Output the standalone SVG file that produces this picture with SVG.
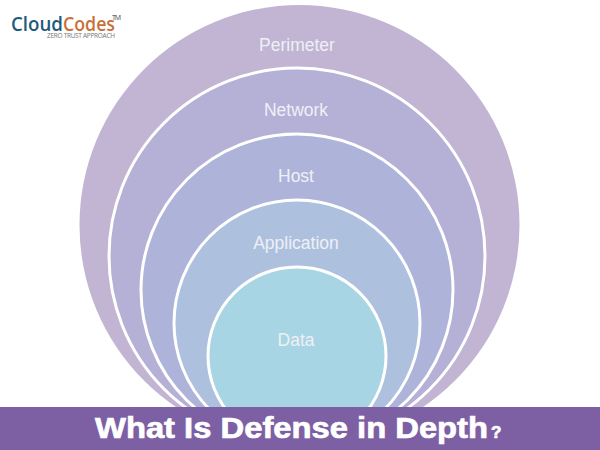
<svg xmlns="http://www.w3.org/2000/svg" width="600" height="450" viewBox="0 0 600 450">
<defs><style>
.ring{stroke:#fff;stroke-width:3}
.lbl{font-family:"Liberation Sans",Arial,sans-serif;font-size:17.500px;fill:#eef0f6;text-anchor:middle}
.ban{font-family:"Liberation Sans",Arial,sans-serif;font-weight:700;fill:#fff;stroke:#fff;stroke-width:.7}
</style></defs>
<rect width="600" height="450" fill="#fff"/>
<g id="perimeter"><circle cx="299.500" cy="225" r="220" fill="#c2b5d4"/><text class="lbl" x="297" y="51">Perimeter</text></g>
<g id="network"><circle class="ring" cx="297" cy="256" r="188" fill="#b5b0d6"/><text class="lbl" x="296" y="116">Network</text></g>
<g id="host"><circle class="ring" cx="297" cy="290" r="156" fill="#aeb4d9"/><text class="lbl" x="296" y="182">Host</text></g>
<g id="application"><circle class="ring" cx="297" cy="323" r="123" fill="#adc1de"/><text class="lbl" x="296" y="249">Application</text></g>
<g id="data"><circle class="ring" cx="297" cy="356" r="89" fill="#a8d5e3"/><text class="lbl" x="296" y="346">Data</text></g>
<g id="logo" font-family="'Open Sans','Liberation Sans',sans-serif">
<text x="11" y="31" font-size="19.500" font-weight="600" fill="#1f5a7a" textLength="52" lengthAdjust="spacingAndGlyphs">Cloud</text>
<text x="63" y="31" font-size="19.500" font-weight="600" fill="#c9703a" textLength="52" lengthAdjust="spacingAndGlyphs">Codes</text>
<text x="112" y="20" font-size="7" fill="#444" textLength="9">TM</text>
<text x="47" y="38" font-size="6.500" fill="#777" textLength="68">ZERO TRUST APPROACH</text>
</g>
<g id="banner"><rect x="0" y="407" width="600" height="43" fill="#7d60a3"/>
<text class="ban" x="95" y="438" font-size="30" textLength="393" lengthAdjust="spacingAndGlyphs">What Is Defense in Depth</text>
<text class="ban" x="491" y="438" font-size="17">?</text></g>
</svg>
